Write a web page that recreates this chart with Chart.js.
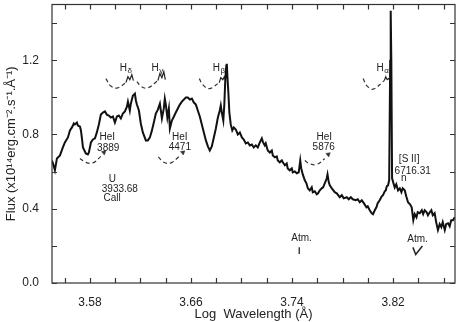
<!DOCTYPE html>
<html>
<head>
<meta charset="utf-8">
<title>Spectrum</title>
<script src="https://cdn.jsdelivr.net/npm/chart.js@4.4.0/dist/chart.umd.min.js"></script>
<style>
  html, body { margin: 0; padding: 0; background: #fff; }
  #wrap { width: 460px; height: 322px; }
</style>
</head>
<body>
<div id="wrap"><canvas id="spectrum" width="460" height="322"></canvas></div>
<script>
// spectrum: log wavelength (A) vs flux
const logWave = [
  3.5500,3.5515,3.5523,3.5539,3.5563,3.5586,3.5602,3.5626,3.5642,3.5658,
  3.5673,3.5681,3.5697,3.5705,3.5721,3.5729,3.5737,3.5745,3.5768,3.5784,
  3.5792,3.5808,3.5824,3.5840,3.5855,3.5871,3.5887,3.5903,3.5919,3.5934,
  3.5950,3.5966,3.5982,3.5998,3.6014,3.6029,3.6045,3.6061,3.6077,3.6093,
  3.6101,3.6116,3.6124,3.6140,3.6156,3.6164,3.6172,3.6188,3.6203,3.6219,
  3.6243,3.6259,3.6275,3.6291,3.6306,3.6322,3.6338,3.6354,3.6370,3.6385,
  3.6393,3.6401,3.6413,3.6425,3.6433,3.6449,3.6465,3.6480,3.6496,3.6512,
  3.6528,3.6544,3.6559,3.6575,3.6591,3.6607,3.6623,3.6639,3.6654,3.6670,
  3.6686,3.6702,3.6718,3.6734,3.6749,3.6765,3.6781,3.6797,3.6813,3.6828,
  3.6836,3.6844,3.6856,3.6864,3.6872,3.6880,3.6884,3.6888,3.6896,3.6904,
  3.6915,3.6927,3.6939,3.6955,3.6971,3.6987,3.7003,3.7018,3.7034,3.7050,
  3.7066,3.7082,3.7097,3.7113,3.7129,3.7145,3.7161,3.7171,3.7184,3.7192,
  3.7208,3.7224,3.7240,3.7248,3.7264,3.7279,3.7287,3.7303,3.7319,3.7327,
  3.7343,3.7358,3.7366,3.7382,3.7398,3.7406,3.7422,3.7438,3.7453,3.7465,
  3.7473,3.7485,3.7501,3.7514,3.7525,3.7540,3.7556,3.7564,3.7580,3.7596,
  3.7606,3.7620,3.7635,3.7646,3.7659,3.7675,3.7681,3.7691,3.7699,3.7715,
  3.7738,3.7754,3.7778,3.7794,3.7809,3.7833,3.7849,3.7865,3.7881,3.7904,
  3.7920,3.7936,3.7952,3.7968,3.7989,3.7999,3.8015,3.8031,3.8041,3.8055,
  3.8068,3.8078,3.8094,3.8110,3.8120,3.8134,3.8142,3.8150,3.8160,3.8169,
  3.8177,3.8181,3.8186,3.8192,3.8201,3.8213,3.8225,3.8239,3.8253,3.8266,
  3.8276,3.8292,3.8304,3.8318,3.8334,3.8347,3.8360,3.8371,3.8385,3.8395,
  3.8411,3.8427,3.8438,3.8450,3.8466,3.8476,3.8490,3.8503,3.8514,3.8529,
  3.8541,3.8555,3.8569,3.8582,3.8593,3.8609,3.8620,3.8635,3.8648,3.8660,
  3.8674,3.8688
];
const flux = [
  0.660,0.628,0.607,0.671,0.687,0.730,0.757,0.784,0.822,0.838,
  0.859,0.854,0.864,0.848,0.843,0.822,0.779,0.730,0.698,0.693,
  0.703,0.757,0.773,0.779,0.811,0.854,0.907,0.918,0.924,0.907,
  0.902,0.891,0.897,0.864,0.897,0.902,0.886,0.913,0.924,0.950,
  0.977,0.929,0.966,1.009,1.020,0.983,0.961,0.929,0.859,0.811,
  0.768,0.768,0.784,0.822,0.864,0.913,0.934,0.966,0.886,0.940,
  0.993,0.961,0.891,0.940,0.832,0.875,0.897,0.918,0.940,0.961,
  0.977,0.988,0.999,0.999,0.988,0.993,0.972,0.961,0.929,0.897,
  0.854,0.811,0.768,0.736,0.714,0.736,0.784,0.832,0.891,0.929,
  0.956,0.918,0.875,0.961,1.101,1.171,1.181,1.117,1.026,0.918,
  0.854,0.822,0.838,0.827,0.800,0.811,0.784,0.773,0.752,0.757,
  0.741,0.746,0.730,0.741,0.730,0.757,0.779,0.757,0.741,0.752,
  0.714,0.703,0.714,0.687,0.677,0.682,0.660,0.650,0.660,0.650,
  0.634,0.644,0.617,0.607,0.617,0.596,0.601,0.591,0.596,0.660,
  0.617,0.585,0.553,0.537,0.510,0.499,0.515,0.489,0.494,0.478,
  0.483,0.499,0.510,0.515,0.537,0.564,0.585,0.542,0.526,0.510,
  0.489,0.483,0.462,0.473,0.456,0.462,0.451,0.462,0.451,0.446,
  0.451,0.435,0.446,0.430,0.408,0.413,0.392,0.376,0.371,0.392,
  0.408,0.430,0.446,0.467,0.473,0.494,0.499,0.521,0.526,0.553,
  1.197,1.466,1.197,0.564,0.542,0.515,0.532,0.499,0.510,0.489,
  0.510,0.499,0.467,0.435,0.424,0.408,0.338,0.371,0.354,0.381,
  0.376,0.392,0.371,0.392,0.381,0.365,0.381,0.392,0.365,0.376,
  0.328,0.285,0.317,0.301,0.328,0.285,0.317,0.322,0.306,0.338,
  0.338,0.354
];

// axis ticks
const xTicks = [3.56,3.58,3.60,3.62,3.64,3.66,3.68,3.70,3.72,3.74,3.76,3.78,3.80,3.82,3.84,3.86];
const xLabels = [3.58, 3.66, 3.74, 3.82];
const yTicks = [0, 0.2, 0.4, 0.6, 0.8, 1.0, 1.2, 1.4];
const yLabels = [0, 0.4, 0.8, 1.2];

// dashed wings under the Balmer lines, and the little emission cores
const arcHdelta = [[3.5927,1.101],[3.5962,1.063],[3.6014,1.050],[3.6085,1.079]];
const arcHgamma = [[3.6172,1.085],[3.6203,1.060],[3.6255,1.050],[3.6338,1.090]];
const arcHbeta  = [[3.6666,1.101],[3.6694,1.068],[3.6745,1.047],[3.6824,1.079]];
const arcHalpha = [[3.7963,1.101],[3.7991,1.063],[3.8042,1.044],[3.8130,1.090]];
const coreHdelta = [[3.6085,1.079],[3.6101,1.111],[3.6116,1.095],[3.6132,1.122],[3.6144,1.090]];
const coreHgamma = [[3.6338,1.090],[3.6354,1.128],[3.6370,1.106],[3.6385,1.138],[3.6397,1.095]];
const coreHbeta  = [[3.6824,1.079],[3.6836,1.106],[3.6852,1.095],[3.6864,1.111],[3.6876,1.090]];
const coreHalpha = [[3.8130,1.090],[3.8142,1.111],[3.8153,1.095],[3.8165,1.101],[3.8181,1.090]];

// dashed arrows under the HeI labels
const arcHeI3889 = [[3.5721,0.671],[3.5768,0.650],[3.5824,0.647],[3.5887,0.682]];
const arcHeI4471 = [[3.6342,0.679],[3.6385,0.650],[3.6441,0.647],[3.6508,0.682]];
const arcHeI5876 = [[3.7501,0.660],[3.7540,0.642],[3.7596,0.639],[3.7659,0.669]];
const arrowTips = [[3.5911,0.703],[3.6536,0.703],[3.7687,0.693]];

// atmospheric band marks
const atmTick  = [[3.7457,0.193],[3.7457,0.156]];
const atmCheck = [[3.8357,0.192],[3.8379,0.154],[3.8432,0.199]];

// line identifications
const noteTexts = [
  ['HeI', 3.5937, 0.783], ['3889', 3.5945, 0.727],
  ['HeI', 3.6512, 0.786], ['4471', 3.6512, 0.730],
  ['HeI', 3.7655, 0.786], ['5876', 3.7651, 0.733],
  ['U', 3.5978, 0.561], ['3933.68', 3.6037, 0.507], ['Call', 3.5976, 0.459],
  ['[S II]', 3.8327, 0.666], ['6716.31', 3.8355, 0.601], ['n', 3.8284, 0.564],
  ['Atm.', 3.7475, 0.239], ['Atm.', 3.8394, 0.234]
];
const balmerLabels = [['δ', 3.6037, 1.157], ['γ', 3.6288, 1.157], ['β', 3.6773, 1.157], ['α', 3.8068, 1.157]];

const FONT = '"Liberation Sans", Arial, Helvetica, sans-serif';
const INK = '#111';

const toPts = arr => arr.map(p => ({ x: p[0], y: p[1] }));
const near = (list, v) => list.some(t => Math.abs(t - v) < 1e-6);

function dashed(arr) {
  return { data: toPts(arr), borderColor: '#333', borderWidth: 1.2, borderDash: [4, 3],
           tension: 0.4, pointRadius: 0 };
}
function solid(arr, w) {
  return { data: toPts(arr), borderColor: '#222', borderWidth: w || 1.2, tension: 0, pointRadius: 0 };
}

const datasets = [
  { data: logWave.map((x, i) => ({ x: x, y: flux[i] })), borderColor: INK, borderWidth: 2,
    pointRadius: 0, tension: 0 },
  dashed(arcHdelta), dashed(arcHgamma), dashed(arcHbeta), dashed(arcHalpha),
  solid(coreHdelta), solid(coreHgamma), solid(coreHbeta), solid(coreHalpha),
  dashed(arcHeI3889), dashed(arcHeI4471), dashed(arcHeI5876),
  { data: toPts(arrowTips), showLine: false, pointStyle: 'triangle', pointRotation: 50,
    pointRadius: 2.6, pointBackgroundColor: '#333', pointBorderColor: '#333', pointBorderWidth: 0.5 },
  solid(atmTick, 1.3), solid(atmCheck, 1.5)
];

// box frame with ticks pointing inward on all four sides
const frameTicks = {
  id: 'frameTicks',
  afterDatasetsDraw(chart) {
    const { ctx, chartArea: a, scales: { x, y } } = chart;
    ctx.save();
    ctx.strokeStyle = '#333';
    ctx.lineWidth = 1.2;
    ctx.strokeRect(a.left, a.top, a.right - a.left, a.bottom - a.top);
    ctx.beginPath();
    xTicks.forEach(v => {
      const px = Math.round(x.getPixelForValue(v)) + 0.5;
      ctx.moveTo(px, a.bottom); ctx.lineTo(px, a.bottom - 5);
      ctx.moveTo(px, a.top); ctx.lineTo(px, a.top + 5);
    });
    yTicks.forEach(v => {
      const py = Math.round(y.getPixelForValue(v)) + 0.5;
      ctx.moveTo(a.left, py); ctx.lineTo(a.left + 5, py);
      ctx.moveTo(a.right, py); ctx.lineTo(a.right - 5, py);
    });
    ctx.stroke();
    ctx.restore();
  }
};

// text labels placed in data units
const lineNotes = {
  id: 'lineNotes',
  afterDatasetsDraw(chart) {
    const { ctx, scales: { x, y } } = chart;
    ctx.save();
    ctx.fillStyle = '#222';
    ctx.textAlign = 'center';
    ctx.textBaseline = 'middle';
    ctx.font = '10px ' + FONT;
    noteTexts.forEach(n => ctx.fillText(n[0], x.getPixelForValue(n[1]), y.getPixelForValue(n[2])));

    ctx.textAlign = 'left';
    balmerLabels.forEach(b => {
      const px = x.getPixelForValue(b[1]);
      const py = y.getPixelForValue(b[2]);
      ctx.font = '10px ' + FONT;
      ctx.fillText('H', px, py);
      const w = ctx.measureText('H').width;
      ctx.font = '8px ' + FONT;
      ctx.fillText(b[0], px + w + 0.5, py + 3);
    });
    ctx.restore();
  }
};

new Chart(document.getElementById('spectrum'), {
  type: 'line',
  data: { datasets: datasets },
  options: {
    responsive: false,
    animation: false,
    layout: { padding: { left: 0, right: 5, top: 3, bottom: 0 } },
    plugins: { legend: { display: false }, tooltip: { enabled: false } },
    scales: {
      x: {
        type: 'linear',
        min: 3.55,
        max: 3.869,
        grid: { display: false },
        border: { display: false },
        afterBuildTicks: s => { s.ticks = xTicks.map(v => ({ value: v })); },
        afterFit: s => { s.height = 39; s.paddingLeft = 0; s.paddingRight = 0; },
        ticks: {
          autoSkip: false, maxRotation: 0, padding: 4, color: '#222',
          font: { family: FONT, size: 12 },
          callback: v => near(xLabels, v) ? v.toFixed(2) : ''
        },
        title: {
          display: true, text: 'Log  Wavelength (Å)', color: '#222',
          font: { family: FONT, size: 13 }, padding: { top: 0, bottom: 0 }
        }
      },
      y: {
        min: 0,
        max: 1.5,
        grid: { display: false },
        border: { display: false },
        afterBuildTicks: s => { s.ticks = yTicks.map(v => ({ value: v })); },
        afterFit: s => { s.width = 52; s.paddingTop = 0; s.paddingBottom = 0; },
        ticks: {
          autoSkip: false, padding: 5, color: '#222',
          font: { family: FONT, size: 12 },
          callback: v => near(yLabels, v) ? v.toFixed(1) : ''
        },
        title: {
          display: true, text: 'Flux (x10¹⁴erg.cm⁻².s⁻¹.Å⁻¹)', color: '#222',
          font: { family: FONT, size: 13 }, padding: { top: 4, bottom: 0 }
        }
      }
    }
  },
  plugins: [frameTicks, lineNotes]
});
</script>
</body>
</html>
